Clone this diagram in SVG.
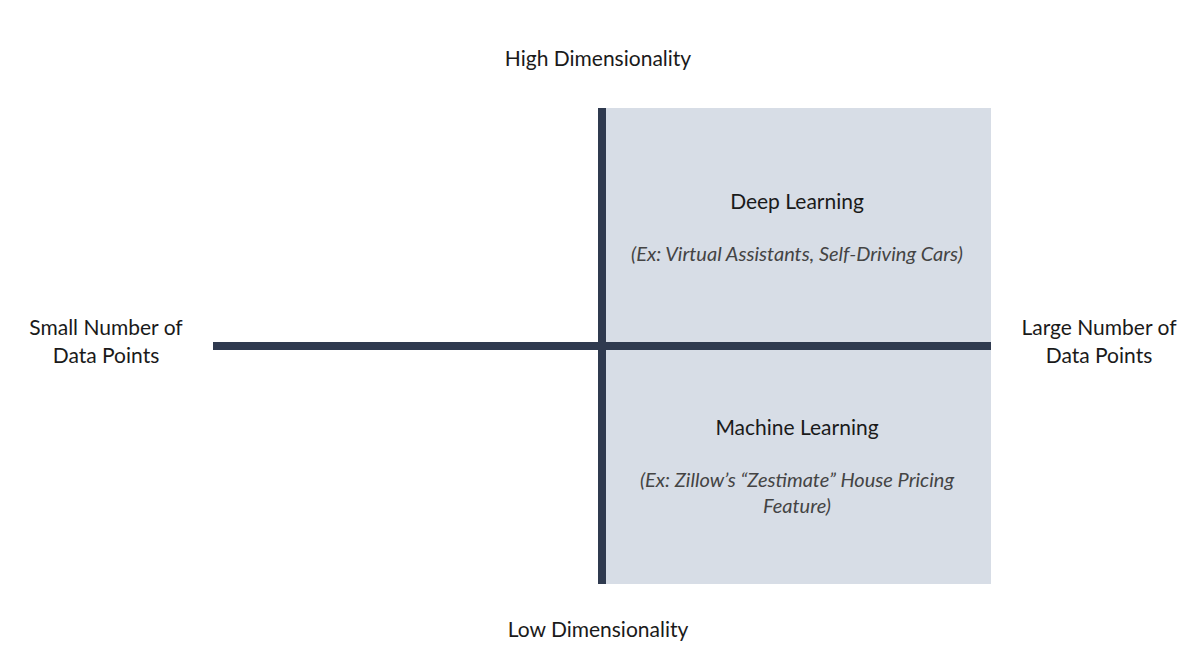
<svg xmlns="http://www.w3.org/2000/svg" width="1200" height="660" viewBox="0 0 1200 660">
<style>
text{font-family:Lato,"Liberation Sans",sans-serif;fill:#1a1a1a;font-size:21px;text-anchor:middle}
.it{font-style:italic;font-size:20px;fill:#444}
.ax{stroke:#2f3a4f;stroke-width:8}
</style>
<rect width="1200" height="660" fill="#fff"/>
<g id="quadrant"><rect x="602" y="108" width="389" height="476" fill="#d7dde6"/></g>
<g id="connectors">
<line class="ax" x1="602" y1="108" x2="602" y2="584"/>
<line class="ax" x1="213" y1="346" x2="991" y2="346"/>
</g>
<g id="high"><text x="598" y="66">High Dimensionality</text></g>
<g id="low"><text x="598" y="637">Low Dimensionality</text></g>
<g id="small"><text x="106" y="335">Small Number of</text><text x="106" y="363">Data Points</text></g>
<g id="large"><text x="1099" y="335">Large Number of</text><text x="1099" y="363">Data Points</text></g>
<g id="deep"><text x="797" y="209">Deep Learning</text><text class="it" x="797" y="261">(Ex: Virtual Assistants, Self-Driving Cars)</text></g>
<g id="ml"><text x="797" y="435">Machine Learning</text><text class="it" x="797" y="487">(Ex: Zillow’s “Zestimate” House Pricing</text><text class="it" x="797" y="513">Feature)</text></g>
</svg>
